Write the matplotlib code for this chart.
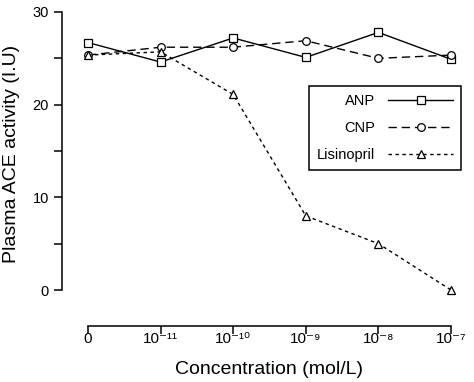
import matplotlib
matplotlib.use('Agg')
import matplotlib.pyplot as plt

plt.rcParams['font.family'] = ['Liberation Sans', 'DejaVu Sans']

# x positions are categorical concentration steps
conc_labels = ['0', '10\u207b\u00b9\u00b9', '10\u207b\u00b9\u2070', '10\u207b\u2079',
               '10\u207b\u2078', '10\u207b\u2077']
xpos = [0, 1, 2, 3, 4, 5]

anp = [26.7, 24.6, 27.2, 25.1, 27.8, 24.9]
cnp = [25.35, 26.2, 26.2, 26.9, 25.0, 25.35]
lisinopril = [25.35, 25.7, 21.1, 8.0, 5.0, 0.0]

W, H = 474, 382
fig = plt.figure(figsize=(W / 100, H / 100), dpi=100)
# axes box in pixels: left 62, right 451, top 12, bottom 290
ax = fig.add_axes([62 / W, 1 - 290 / H, (451 - 62) / W, (290 - 12) / H])

ax.plot(xpos, anp, color='black', lw=1.0, ls='-', marker='s', ms=5.5,
        mfc='white', mec='black', mew=0.9, clip_on=False, label='ANP')
ax.plot(xpos, cnp, color='black', lw=1.0, ls=(0, (6, 3.5)), marker='o', ms=5.5,
        mfc='white', mec='black', mew=0.9, clip_on=False, label='CNP')
ax.plot(xpos, lisinopril, color='black', lw=1.0, ls=(0, (2.5, 2.5)), marker='^', ms=5.5,
        mfc='white', mec='black', mew=0.9, clip_on=False, label='Lisinopril')

ax.set_xlim(-26 / 72.6, 5)
ax.set_ylim(0, 30)

for s in ['top', 'right']:
    ax.spines[s].set_visible(False)
ax.spines['bottom'].set_position(('outward', 26))
ax.spines['bottom'].set_bounds(0, 5)
ax.spines['left'].set_bounds(0, 30)
for s in ['left', 'bottom']:
    ax.spines[s].set_linewidth(1.1)

ax.set_yticks([0, 10, 20, 30])
ax.set_yticks([5, 15, 25], minor=True)
ax.set_xticks(xpos)
ax.set_xticklabels(conc_labels)
ax.tick_params(axis='y', which='both', length=5.5, width=1.1, labelsize=10.5, pad=4)
ax.tick_params(axis='x', length=6, width=1.1, labelsize=11, pad=-1.5)

ax.set_xlabel('Concentration (mol/L)', fontsize=14)
ax.set_ylabel('Plasma ACE activity (I.U)', fontsize=14)
ax.xaxis.set_label_coords(0.532, -0.255)
ax.yaxis.set_label_coords(-0.108, 0.49)

leg = ax.legend(loc='upper right', bbox_to_anchor=(461 / W, 1 - 86 / H),
                bbox_transform=fig.transFigure, markerfirst=False,
                fontsize=10.5, handlelength=4.45, handletextpad=0.9,
                labelspacing=0.9, borderpad=0.55, borderaxespad=0,
                fancybox=False, edgecolor='black', framealpha=1)
leg.get_frame().set_linewidth(1.1)

fig.savefig('out.png', dpi=100)
